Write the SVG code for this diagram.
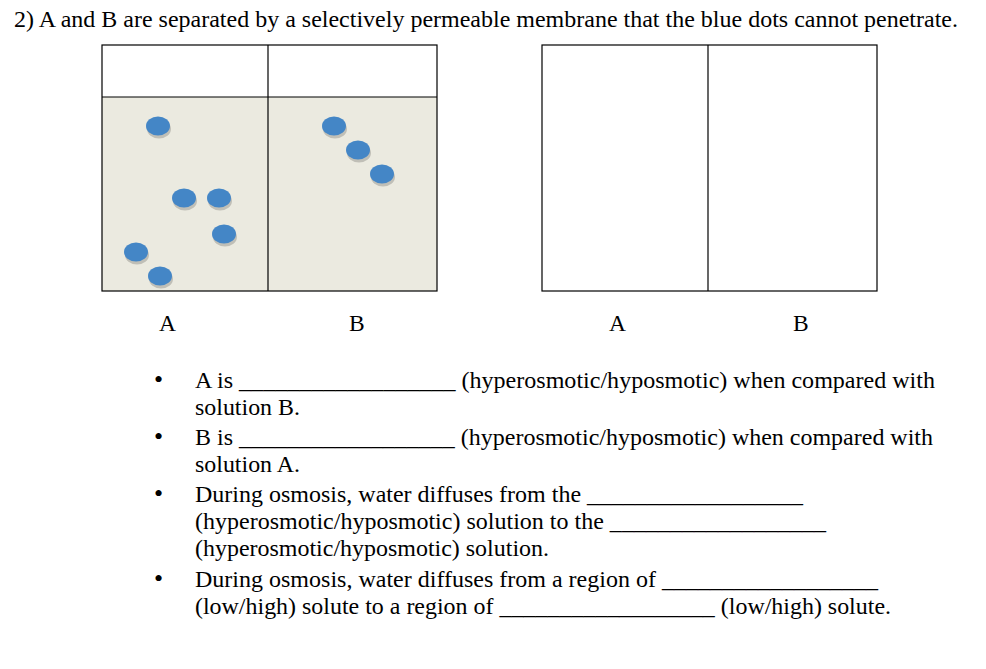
<svg xmlns="http://www.w3.org/2000/svg" width="986" height="669" viewBox="0 0 986 669">
<style>
text{font-family:"Liberation Serif","Times New Roman",serif;font-size:23.5px;fill:#000}
.bl{font-size:26px}
.b{fill:none;stroke:#000;stroke-width:1.2}
.d{fill:#4486c6}
.s{fill:#000;opacity:0.18}
</style>
<rect width="986" height="669" fill="#fff"/>
<text x="14" y="27" textLength="944" lengthAdjust="spacingAndGlyphs">2) A and B are separated by a selectively permeable membrane that the blue dots cannot penetrate.</text>
<g id="left-box">
<rect x="102" y="97" width="335" height="194" fill="#ebeae0"/>
<rect class="b" x="102" y="45" width="335" height="246"/>
<line class="b" x1="102" y1="97" x2="437" y2="97"/>
<line class="b" x1="268" y1="45" x2="268" y2="291"/>
<g id="dots">
<ellipse class="s" cx="159" cy="129" rx="12" ry="9.5"/><ellipse class="d" cx="158" cy="126" rx="12" ry="9.5"/>
<ellipse class="s" cx="185" cy="201" rx="12" ry="9.5"/><ellipse class="d" cx="184" cy="198" rx="12" ry="9.5"/>
<ellipse class="s" cx="220" cy="201" rx="12" ry="9.5"/><ellipse class="d" cx="219" cy="198" rx="12" ry="9.5"/>
<ellipse class="s" cx="225" cy="237" rx="12" ry="9.5"/><ellipse class="d" cx="224" cy="234" rx="12" ry="9.5"/>
<ellipse class="s" cx="137" cy="255" rx="12" ry="9.5"/><ellipse class="d" cx="136" cy="252" rx="12" ry="9.5"/>
<ellipse class="s" cx="161" cy="279" rx="12" ry="9.5"/><ellipse class="d" cx="160" cy="276" rx="12" ry="9.5"/>
<ellipse class="s" cx="335" cy="129" rx="12" ry="9.5"/><ellipse class="d" cx="334" cy="126" rx="12" ry="9.5"/>
<ellipse class="s" cx="359" cy="153" rx="12" ry="9.5"/><ellipse class="d" cx="358" cy="150" rx="12" ry="9.5"/>
<ellipse class="s" cx="383" cy="177" rx="12" ry="9.5"/><ellipse class="d" cx="382" cy="174" rx="12" ry="9.5"/>
</g>
</g>
<g id="right-box">
<rect class="b" x="542" y="45" width="335" height="246" fill="#fff"/>
<line class="b" x1="708" y1="45" x2="708" y2="291"/>
</g>
<g id="labels">
<text x="159" y="331">A</text>
<text x="349" y="331">B</text>
<text x="609" y="331">A</text>
<text x="793" y="331">B</text>
</g>
<g id="questions">
<text class="bl" x="154" y="388">•</text>
<text x="195" y="388" textLength="740" lengthAdjust="spacingAndGlyphs">A is __________________ (hyperosmotic/hyposmotic) when compared with</text>
<text x="195" y="415" textLength="105" lengthAdjust="spacingAndGlyphs">solution B.</text>
<text class="bl" x="154" y="445">•</text>
<text x="195" y="445" textLength="738" lengthAdjust="spacingAndGlyphs">B is __________________ (hyperosmotic/hyposmotic) when compared with</text>
<text x="195" y="472" textLength="105" lengthAdjust="spacingAndGlyphs">solution A.</text>
<text class="bl" x="154" y="502">•</text>
<text x="195" y="502" textLength="608" lengthAdjust="spacingAndGlyphs">During osmosis, water diffuses from the __________________</text>
<text x="195" y="529" textLength="631" lengthAdjust="spacingAndGlyphs">(hyperosmotic/hyposmotic) solution to the __________________</text>
<text x="195" y="556" textLength="354" lengthAdjust="spacingAndGlyphs">(hyperosmotic/hyposmotic) solution.</text>
<text class="bl" x="154" y="587">•</text>
<text x="195" y="587" textLength="683" lengthAdjust="spacingAndGlyphs">During osmosis, water diffuses from a region of __________________</text>
<text x="195" y="614" textLength="696" lengthAdjust="spacingAndGlyphs">(low/high) solute to a region of __________________ (low/high) solute.</text>
</g>
</svg>
